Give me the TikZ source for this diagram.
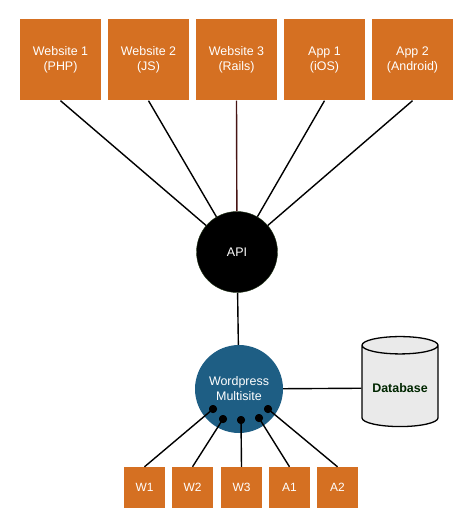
\documentclass[tikz,border=0pt]{standalone}
\usepackage{fontspec}
\setmainfont{Liberation Sans}
\usepackage{tikz}
\usetikzlibrary{shapes.geometric}

\definecolor{siteorange}{RGB}{213,112,34}
\definecolor{wpblue}{RGB}{30,94,132}
\definecolor{dbgray}{RGB}{234,234,234}
\definecolor{apiedge}{RGB}{40,60,30}
\definecolor{darkline}{RGB}{70,20,20}

\tikzset{
  site/.style={fill=siteorange, minimum width=81bp, minimum height=81bp, inner sep=0pt,
    text=white, align=center, font=\fontsize{12.5}{15}\selectfont},
  subsite/.style={fill=siteorange, minimum width=41bp, minimum height=41bp, inner sep=0pt,
    text=white, font=\fontsize{12}{14}\selectfont},
  hub/.style={circle, inner sep=0pt, text=white, align=center, font=\fontsize{12.5}{15}\selectfont},
  port/.style={circle, fill=black, minimum size=8bp, inner sep=0pt},
  link/.style={line width=1.4bp},
}

\begin{document}
\begin{tikzpicture}[x=1bp, y=-1bp]
        \useasboundingbox (0,0) rectangle (474,524);                       %
        \node[site] (web1) at (60.5,60)   {Website 1\\(PHP)};              %
        \node[site] (web2) at (148.5,60)  {Website 2\\(JS)};               %
        \node[site] (web3) at (236.5,60)  {Website 3\\(Rails)};            %
        \node[site] (app1) at (324.5,60)  {App 1\\(iOS)};                  %
        \node[site] (app2) at (412.5,60)  {App 2\\(Android)};              %
        \node[hub, fill=black, draw=apiedge, minimum size=81bp] (api) at (237,252) {API};
        \node[hub, fill=wpblue, minimum size=88bp] (wp) at (239,389) {Wordpress\\Multisite};
        \node[cylinder, shape border rotate=90, aspect=0.28, draw=black, line width=1.3bp,
             fill=dbgray, minimum width=76bp, minimum height=90bp,
             font=\bfseries\fontsize{12.5}{15}\selectfont, text=black!85!green] (db) at (400,388) {Database};
        \node[port] (p1) at (213,409) {};                                   %
        \node[port] (p2) at (223,419) {};                                   %
        \node[port] (p3) at (241,420) {};                                   %
        \node[port] (p4) at (259,418) {};                                   %
        \node[port] (p5) at (268,409) {};                                   %
        \node[subsite] (w1) at (144.5,487.5) {W1};                          %
        \node[subsite] (w2) at (192.5,487.5) {W2};                          %
        \node[subsite] (w3) at (241.5,487.5) {W3};                          %
        \node[subsite] (a1) at (289.5,487.5) {A1};                          %
        \node[subsite] (a2) at (337.5,487.5) {A2};                          %
        % clients to the api
        \draw[link] (web1.south) -- (api);                                  %
        \draw[link] (web2.south) -- (api);                                  %
        \draw[link, darkline] (web3.south) -- (api);                        %
        \draw[link] (app1.south) -- (api);                                  %
        \draw[link] (app2.south) -- (api);                                  %
        % api, multisite, database
        \draw[link] (api) -- (wp);                                          %
        \draw[link] (wp) -- (db);                                           %
        % sub sites
        \draw[link] (p1.center) -- (w1.north);                              %
        \draw[link] (p2.center) -- (w2.north);                              %
        \draw[link] (p3.center) -- (w3.north);                              %
        \draw[link] (p4.center) -- (a1.north);                              %
        \draw[link] (p5.center) -- (a2.north);                              %
        \foreach \p in {p1,p2,p3,p4,p5} \node[port] at (\p) {};             %
\end{tikzpicture}
\end{document}
